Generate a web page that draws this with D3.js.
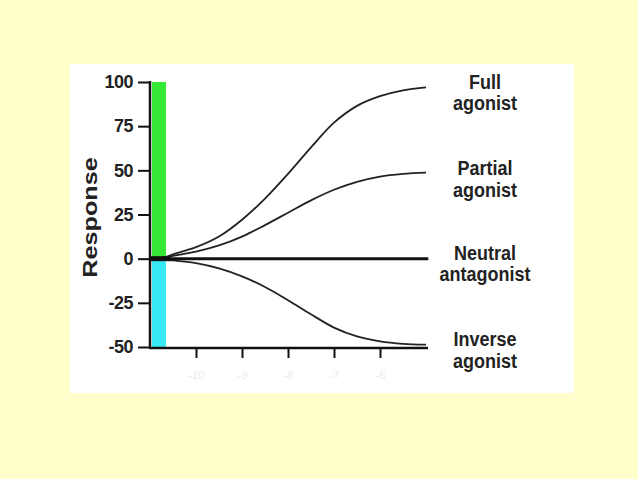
<!DOCTYPE html>
<meta charset="utf-8">
<style>
body { margin: 0; background: #ffffcc; }
.curve { fill: none; stroke: #222; stroke-width: 1.8px; }
text { font-family: "Liberation Sans", Arial, sans-serif; }
</style>
<svg width="638" height="479"></svg>
<script src="https://cdn.jsdelivr.net/npm/d3@7/dist/d3.min.js"></script>
<script>

// log concentration sample points
var logConc = [-10.65, -10.5, -10, -9.5, -9, -8.5, -8, -7.5, -7, -6.5, -6, -5.5, -5];
var fullAgonist    = [1, 2.5, 6.5, 12.5, 22, 34, 48, 63, 77, 86.5, 92, 95.3, 97];
var partialAgonist = [0.8, 1.6, 4, 7.5, 12.5, 19, 26, 33, 39, 43.5, 46.5, 48, 48.7];
var neutralAntag   = [0, 0, 0, 0, 0, 0, 0, 0, 0, 0, 0, 0, 0];
var inverseAgonist = [-0.5, -1, -2.5, -5.5, -10, -16, -23.5, -31.5, -39, -44, -46.8, -48.2, -48.7];

var seriesNames = [["Full", "agonist"], ["Partial", "agonist"], ["Neutral", "antagonist"], ["Inverse", "agonist"]];
var labelValues = [98, 49, 1, -48];
var yTicks = [100, 75, 50, 25, 0, -25, -50];
var xTicks = [-10, -9, -8, -7, -6];
var bars = [{from: 0, to: 100, color: "#35e835"}, {from: -50, to: 0, color: "#38e8f2"}];

var svg = d3.select("svg");

svg.append("rect")
    .attr("x", 70).attr("y", 64)
    .attr("width", 504).attr("height", 329)
    .attr("fill", "#fff");

var x = d3.scaleLinear().domain([-11, -5]).range([150, 426]),
    y = d3.scaleLinear().domain([-50, 100]).range([347, 82]);

// coloured bar on the left
svg.selectAll(".bar")
  .data(bars)
  .enter().append("rect")
    .attr("x", x(-11) + 2)
    .attr("width", 14)
    .attr("y", function(d) { return y(d.to); })
    .attr("height", function(d) { return y(d.from) - y(d.to); })
    .attr("fill", function(d) { return d.color; });

var line = d3.line()
    .curve(d3.curveCatmullRom.alpha(0.5))
    .x(function(d) { return x(d[0]); })
    .y(function(d) { return y(d[1]); });

[fullAgonist, partialAgonist, inverseAgonist].forEach(function(vals) {
  svg.append("path")
      .attr("class", "curve")
      .attr("d", line([[-10.85, 0]].concat(logConc.map(function(c, i) { return [c, vals[i]]; }))));
});

// neutral antagonist, heavier line along zero
svg.append("path")
    .attr("fill", "none")
    .attr("stroke", "#111")
    .attr("stroke-width", 3)
    .attr("d", line([[-11, 0]].concat(logConc.map(function(c, i) { return [c, neutralAntag[i]]; })).concat([[-4.95, 0]])));

svg.append("path")
    .attr("fill", "none")
    .attr("stroke", "#111")
    .attr("stroke-width", 5)
    .attr("d", d3.line().x(function(d) { return x(d[0]); }).y(function(d) { return y(d[1]); })([[-11, 0], [-10.55, 0]]));

// axes
var yAxis = svg.append("g")
    .attr("transform", "translate(" + x(-11) + ",0)")
    .call(d3.axisLeft(y).tickValues(yTicks).tickFormat(String).tickSize(12).tickPadding(5).tickSizeOuter(0));
yAxis.select(".domain").attr("stroke", "#111").attr("stroke-width", 2.5).attr("d", "M0," + (y(-50) + 1) + "V" + (y(100) - 1));
yAxis.selectAll(".tick line").attr("stroke", "#111").attr("stroke-width", 2);
yAxis.selectAll(".tick text")
    .attr("font-size", 18).attr("font-weight", "bold")
    .attr("font-family", "Liberation Sans, Arial, sans-serif")
    .attr("fill", "#222").attr("letter-spacing", "-0.5");

var xAxis = svg.append("g")
    .attr("transform", "translate(0," + (y(-50) + 1) + ")")
    .call(d3.axisBottom(x).tickValues(xTicks).tickFormat(String).tickSize(10).tickPadding(13).tickSizeOuter(0));
xAxis.select(".domain").attr("stroke", "#111").attr("stroke-width", 2.5).attr("d", "M" + (x(-11) - 1) + ",0H" + (x(-5) + 2));
xAxis.selectAll(".tick line").attr("stroke", "#111").attr("stroke-width", 2);
xAxis.selectAll(".tick text")
    .attr("font-size", 11).attr("fill", "#ebebeb")
    .attr("font-family", "Liberation Sans, Arial, sans-serif");

svg.append("text")
    .attr("transform", "translate(97,217.5) rotate(-90) scale(1.2,1)")
    .attr("text-anchor", "middle")
    .attr("font-size", 21)
    .attr("font-weight", "bold")
    .attr("fill", "#222")
    .text("Response");

// series labels
var lab = svg.selectAll(".lab")
  .data(seriesNames)
  .enter().append("text")
    .attr("class", "lab")
    .attr("transform", function(d, i) { return "translate(485," + (y(labelValues[i]) + 3) + ") scale(1,1.15)"; })
    .attr("text-anchor", "middle")
    .attr("font-size", 18)
    .attr("font-weight", "bold")
    .attr("fill", "#222");
lab.append("tspan").attr("x", 0).text(function(d) { return d[0]; });
lab.append("tspan").attr("x", 0).attr("dy", 21.5 / 1.15).text(function(d) { return d[1]; });

</script>
